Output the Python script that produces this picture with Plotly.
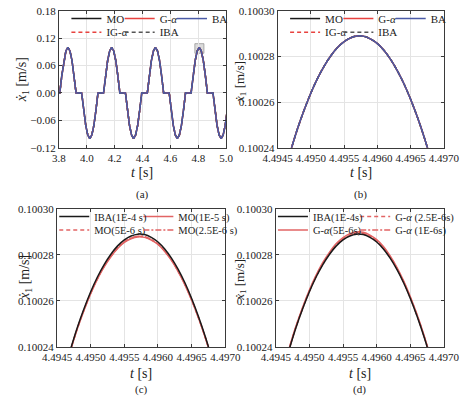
import plotly.graph_objects as go

W, H = 474, 404
SERIF = "Liberation Serif"

# ---------------- data ----------------
# panel (a): velocity over 3.8-5.0 s (all five methods coincide)
T_A = [3.7800,
       3.8060, 3.8206, 3.8353, 3.8499, 3.8645, 3.8791, 3.8938, 3.9084, 3.9230,
       3.9630, 3.9776, 3.9923, 4.0069, 4.0215, 4.0361, 4.0508, 4.0654, 4.0800,
       4.1200, 4.1346, 4.1493, 4.1639, 4.1785, 4.1931, 4.2078, 4.2224, 4.2370,
       4.2770, 4.2916, 4.3063, 4.3209, 4.3355, 4.3501, 4.3648, 4.3794, 4.3940,
       4.4340, 4.4486, 4.4633, 4.4779, 4.4925, 4.5071, 4.5218, 4.5364, 4.5510,
       4.5910, 4.6056, 4.6203, 4.6349, 4.6495, 4.6641, 4.6788, 4.6934, 4.7080,
       4.7480, 4.7626, 4.7773, 4.7919, 4.8065, 4.8211, 4.8358, 4.8504, 4.8650,
       4.9050, 4.9196, 4.9343, 4.9489, 4.9635, 4.9781, 4.9928, 5.0074, 5.0220]
V_A = [0.0,
       0.0, 0.038, 0.071, 0.092, 0.100, 0.092, 0.071, 0.038, 0.0,
       0.0, -0.038, -0.071, -0.092, -0.100, -0.092, -0.071, -0.038, 0.0,
       0.0, 0.038, 0.071, 0.092, 0.100, 0.092, 0.071, 0.038, 0.0,
       0.0, -0.038, -0.071, -0.092, -0.100, -0.092, -0.071, -0.038, 0.0,
       0.0, 0.038, 0.071, 0.092, 0.100, 0.092, 0.071, 0.038, 0.0,
       0.0, -0.038, -0.071, -0.092, -0.100, -0.092, -0.071, -0.038, 0.0,
       0.0, 0.038, 0.071, 0.092, 0.100, 0.092, 0.071, 0.038, 0.0,
       0.0, -0.038, -0.071, -0.092, -0.100, -0.092, -0.071, -0.038, 0.0]
ZOOM_BOX_T = [4.775, 4.840]
ZOOM_BOX_V = [0.087, 0.108]

# panels (b)-(d): close-up around the peak
T_Z = [4.4946, 4.4947, 4.4948, 4.4949, 4.4950, 4.4951, 4.4952, 4.4953,
       4.4954, 4.4955, 4.4956, 4.4957, 4.4958, 4.4959, 4.4960, 4.4961,
       4.4962, 4.4963, 4.4964, 4.4965, 4.4966, 4.4967, 4.4968]
V_IBA = [0.1002290, 0.1002390, 0.1002484, 0.1002566, 0.1002640, 0.1002704,
         0.1002758, 0.1002803, 0.1002839, 0.1002865, 0.1002882, 0.1002890,
         0.1002888, 0.1002876, 0.1002856, 0.1002826, 0.1002786, 0.1002737,
         0.1002679, 0.1002611, 0.1002534, 0.1002448, 0.1002352]
V_MO_1E5 = [0.1002286, 0.1002385, 0.1002478, 0.1002559, 0.1002632, 0.1002695,
            0.1002748, 0.1002792, 0.1002828, 0.1002854, 0.1002870, 0.1002878,
            0.1002876, 0.1002864, 0.1002845, 0.1002815, 0.1002776, 0.1002727,
            0.1002670, 0.1002603, 0.1002527, 0.1002443, 0.1002348]
V_MO_5E6 = [0.1002287, 0.1002386, 0.1002479, 0.1002561, 0.1002634, 0.1002697,
            0.1002750, 0.1002794, 0.1002830, 0.1002856, 0.1002872, 0.1002880,
            0.1002878, 0.1002866, 0.1002847, 0.1002817, 0.1002778, 0.1002729,
            0.1002672, 0.1002605, 0.1002528, 0.1002444, 0.1002349]
V_MO_25E6 = [0.1002288, 0.1002387, 0.1002480, 0.1002562, 0.1002635, 0.1002698,
             0.1002751, 0.1002795, 0.1002831, 0.1002857, 0.1002873, 0.1002881,
             0.1002879, 0.1002867, 0.1002848, 0.1002818, 0.1002779, 0.1002730,
             0.1002673, 0.1002606, 0.1002529, 0.1002445, 0.1002350]
V_GA_5E6 = [0.1002295, 0.1002396, 0.1002490, 0.1002573, 0.1002647, 0.1002712,
            0.1002767, 0.1002812, 0.1002849, 0.1002875, 0.1002892, 0.1002900,
            0.1002898, 0.1002886, 0.1002866, 0.1002836, 0.1002795, 0.1002746,
            0.1002687, 0.1002618, 0.1002541, 0.1002454, 0.1002357]
V_GA_25E6 = [0.1002293, 0.1002393, 0.1002488, 0.1002570, 0.1002644, 0.1002709,
             0.1002763, 0.1002808, 0.1002845, 0.1002871, 0.1002888, 0.1002896,
             0.1002894, 0.1002882, 0.1002862, 0.1002832, 0.1002792, 0.1002742,
             0.1002684, 0.1002615, 0.1002538, 0.1002452, 0.1002355]
V_GA_1E6 = [0.1002291, 0.1002391, 0.1002486, 0.1002568, 0.1002642, 0.1002706,
            0.1002760, 0.1002805, 0.1002842, 0.1002868, 0.1002885, 0.1002893,
            0.1002891, 0.1002879, 0.1002859, 0.1002829, 0.1002789, 0.1002740,
            0.1002682, 0.1002613, 0.1002536, 0.1002450, 0.1002353]

X_TICKS_A = [3.8, 4.0, 4.2, 4.4, 4.6, 4.8, 5.0]
Y_TICKS_A = [-0.12, -0.06, 0.00, 0.06, 0.12, 0.18]
X_TICKS_Z = [4.4945, 4.4950, 4.4955, 4.4960, 4.4965, 4.4970]
Y_TICKS_Z = [0.10024, 0.10026, 0.10028, 0.10030]

# ---------------- styling ----------------
BLACK = "#1a1a1a"
RED = "#e8423f"
BLUE = "#4a5aa6"
GRAY = "#555555"
PINK = "#e26464"
LW = 1.5
DASH = "4px,3px"
DASHDOT = "6px,2px,2px,2px"


def px(x):
    return x / W


def py(y):
    return 1 - y / H


fig = go.Figure()

BOX = {
    "a": (47, 226, 5, 146),
    "b": (281, 459, 5, 146),
    "c": (45, 225, 209, 351.5),
    "d": (279, 459, 209, 351.5),
}
AX = {"a": ("x", "y"), "b": ("x2", "y2"), "c": ("x3", "y3"), "d": ("x4", "y4")}

legends = {}
LEG_COUNT = [0]
ITEM_HALF = 15  # distance from legend top to the centre of its single item


def add(panel, x, y, name, color, dash, lx, ly, size=11, shape="linear"):
    LEG_COUNT[0] += 1
    n = LEG_COUNT[0]
    lname = "legend" if n == 1 else "legend%d" % n
    legends[lname] = dict(
        x=px(lx - 5), y=py(ly - ITEM_HALF), xanchor="left", yanchor="top",
        orientation="h", bgcolor="rgba(0,0,0,0)", borderwidth=0,
        font=dict(family=SERIF, size=size, color="#222"), itemwidth=30)
    xa, ya = AX[panel]
    fig.add_trace(go.Scatter(
        x=x, y=y, name=name, mode="lines", xaxis=xa, yaxis=ya,
        line=dict(color=color, width=LW, dash=dash, shape=shape),
        legend=lname, showlegend=True, hoverinfo="skip"))


R1A, R2A = 13, 27
R1C, R2C = 217, 231
# (a)
add("a", T_A, V_A, "MO", BLACK, "solid", 60, R1A)
add("a", T_A, V_A, "G-<i>α</i>", RED, "solid", 117, R1A)
add("a", T_A, V_A, "IG-<i>α</i>", RED, DASH, 60, R2A)
add("a", T_A, V_A, "IBA", GRAY, DASH, 117, R2A)
add("a", T_A, V_A, "BA", BLUE, "solid", 173, R1A)
# (b)
add("b", T_Z, V_IBA, "MO", BLACK, "solid", 294, R1A, shape="spline")
add("b", T_Z, V_IBA, "G-<i>α</i>", RED, "solid", 351, R1A, shape="spline")
add("b", T_Z, V_IBA, "IG-<i>α</i>", RED, DASH, 294, R2A, shape="spline")
add("b", T_Z, V_IBA, "IBA", GRAY, DASH, 351, R2A, shape="spline")
add("b", T_Z, V_IBA, "BA", BLUE, "solid", 407, R1A, shape="spline")
# (c)
add("c", T_Z, V_MO_1E5, "MO(1E-5 s)", PINK, "solid", 137, R1C, 10.5, "spline")
add("c", T_Z, V_MO_5E6, "MO(5E-6 s)", PINK, DASH, 47, R2C, 10.5, "spline")
add("c", T_Z, V_MO_25E6, "MO(2.5E-6 s)", PINK, DASHDOT, 137, R2C, 10.5, "spline")
add("c", T_Z, V_IBA, "IBA(1E-4 s)", BLACK, "solid", 47, R1C, 10.5, "spline")
# (d)
add("d", T_Z, V_GA_5E6, "G-<i>α</i>(5E-6s)", PINK, "solid", 281, R2C, 10.5, "spline")
add("d", T_Z, V_GA_25E6, "G-<i>α</i> (2.5E-6s)", PINK, DASH, 369, R1C, 10.5, "spline")
add("d", T_Z, V_GA_1E6, "G-<i>α</i> (1E-6s)", PINK, DASHDOT, 369, R2C, 10.5, "spline")
add("d", T_Z, V_IBA, "IBA(1E-4s)", BLACK, "solid", 281, R1C, 10.5, "spline")


def axis_common():
    return dict(showline=True, linecolor="#3a3a3a", linewidth=1, mirror="ticks",
                ticks="inside", ticklen=3, tickcolor="#3a3a3a", tickwidth=1,
                showgrid=True, gridcolor="#e4e4e4", gridwidth=1, zeroline=False,
                tickfont=dict(family=SERIF, size=11, color="#222"))


layout = dict(width=W, height=H, margin=dict(l=0, r=0, t=0, b=0),
              paper_bgcolor="white", plot_bgcolor="white", showlegend=True,
              font=dict(family=SERIF, size=11, color="#222"))

for i, p in enumerate(["a", "b", "c", "d"]):
    l, r, t, b = BOX[p]
    sx = "" if i == 0 else str(i + 1)
    xa = axis_common()
    ya = axis_common()
    xa.update(domain=[px(l), px(r)], anchor="y" + sx)
    ya.update(domain=[py(b), py(t)], anchor="x" + sx)
    if p == "a":
        xa.update(range=[X_TICKS_A[0], X_TICKS_A[-1]], tickvals=X_TICKS_A, tickformat=".1f")
        ya.update(range=[Y_TICKS_A[0], Y_TICKS_A[-1]], tickvals=Y_TICKS_A, tickformat=".2f")
    else:
        xa.update(range=[X_TICKS_Z[0], X_TICKS_Z[-1]], tickvals=X_TICKS_Z, tickformat=".4f")
        ya.update(range=[Y_TICKS_Z[0], Y_TICKS_Z[-1]], tickvals=Y_TICKS_Z, tickformat=".5f")
    layout["xaxis" + sx] = xa
    layout["yaxis" + sx] = ya

layout.update(legends)
fig.update_layout(**layout)

# zoom box in (a)
fig.add_shape(type="rect", xref="x", yref="y",
              x0=ZOOM_BOX_T[0], x1=ZOOM_BOX_T[1], y0=ZOOM_BOX_V[0], y1=ZOOM_BOX_V[1],
              fillcolor="rgba(190,190,190,0.55)", line=dict(color="rgba(150,150,150,0.8)", width=1),
              layer="below")

YT = "<i>ẋ</i><sub>1</sub> [m/s]"
XT = "<i>t</i> [s]"
ann = [
    (8, 76, YT, 14, -90), (241, 78, YT, 13, -90), (11, 280, YT, 14, -90), (241, 282, YT, 13, -90),
    (136, 172, XT, 14, 0), (370, 172, XT, 14, 0), (135, 379, XT, 14, 0), (369, 379, XT, 14, 0),
    (136, 194, "(a)", 11, 0), (370, 194, "(b)", 11, 0), (135, 395, "(c)", 11, 0), (369, 395, "(d)", 11, 0),
]
for x, y, txt, size, ang in ann:
    fig.add_annotation(x=px(x), y=py(y), xref="paper", yref="paper", text=txt,
                       showarrow=False, xanchor="center", yanchor="middle", textangle=ang,
                       font=dict(family=SERIF, size=size, color="#222"))

fig.write_html("out.html",
               config={"displayModeBar": False},
               post_script="document.body.style.margin='0px';"
                           "document.body.style.overflow='hidden';")
